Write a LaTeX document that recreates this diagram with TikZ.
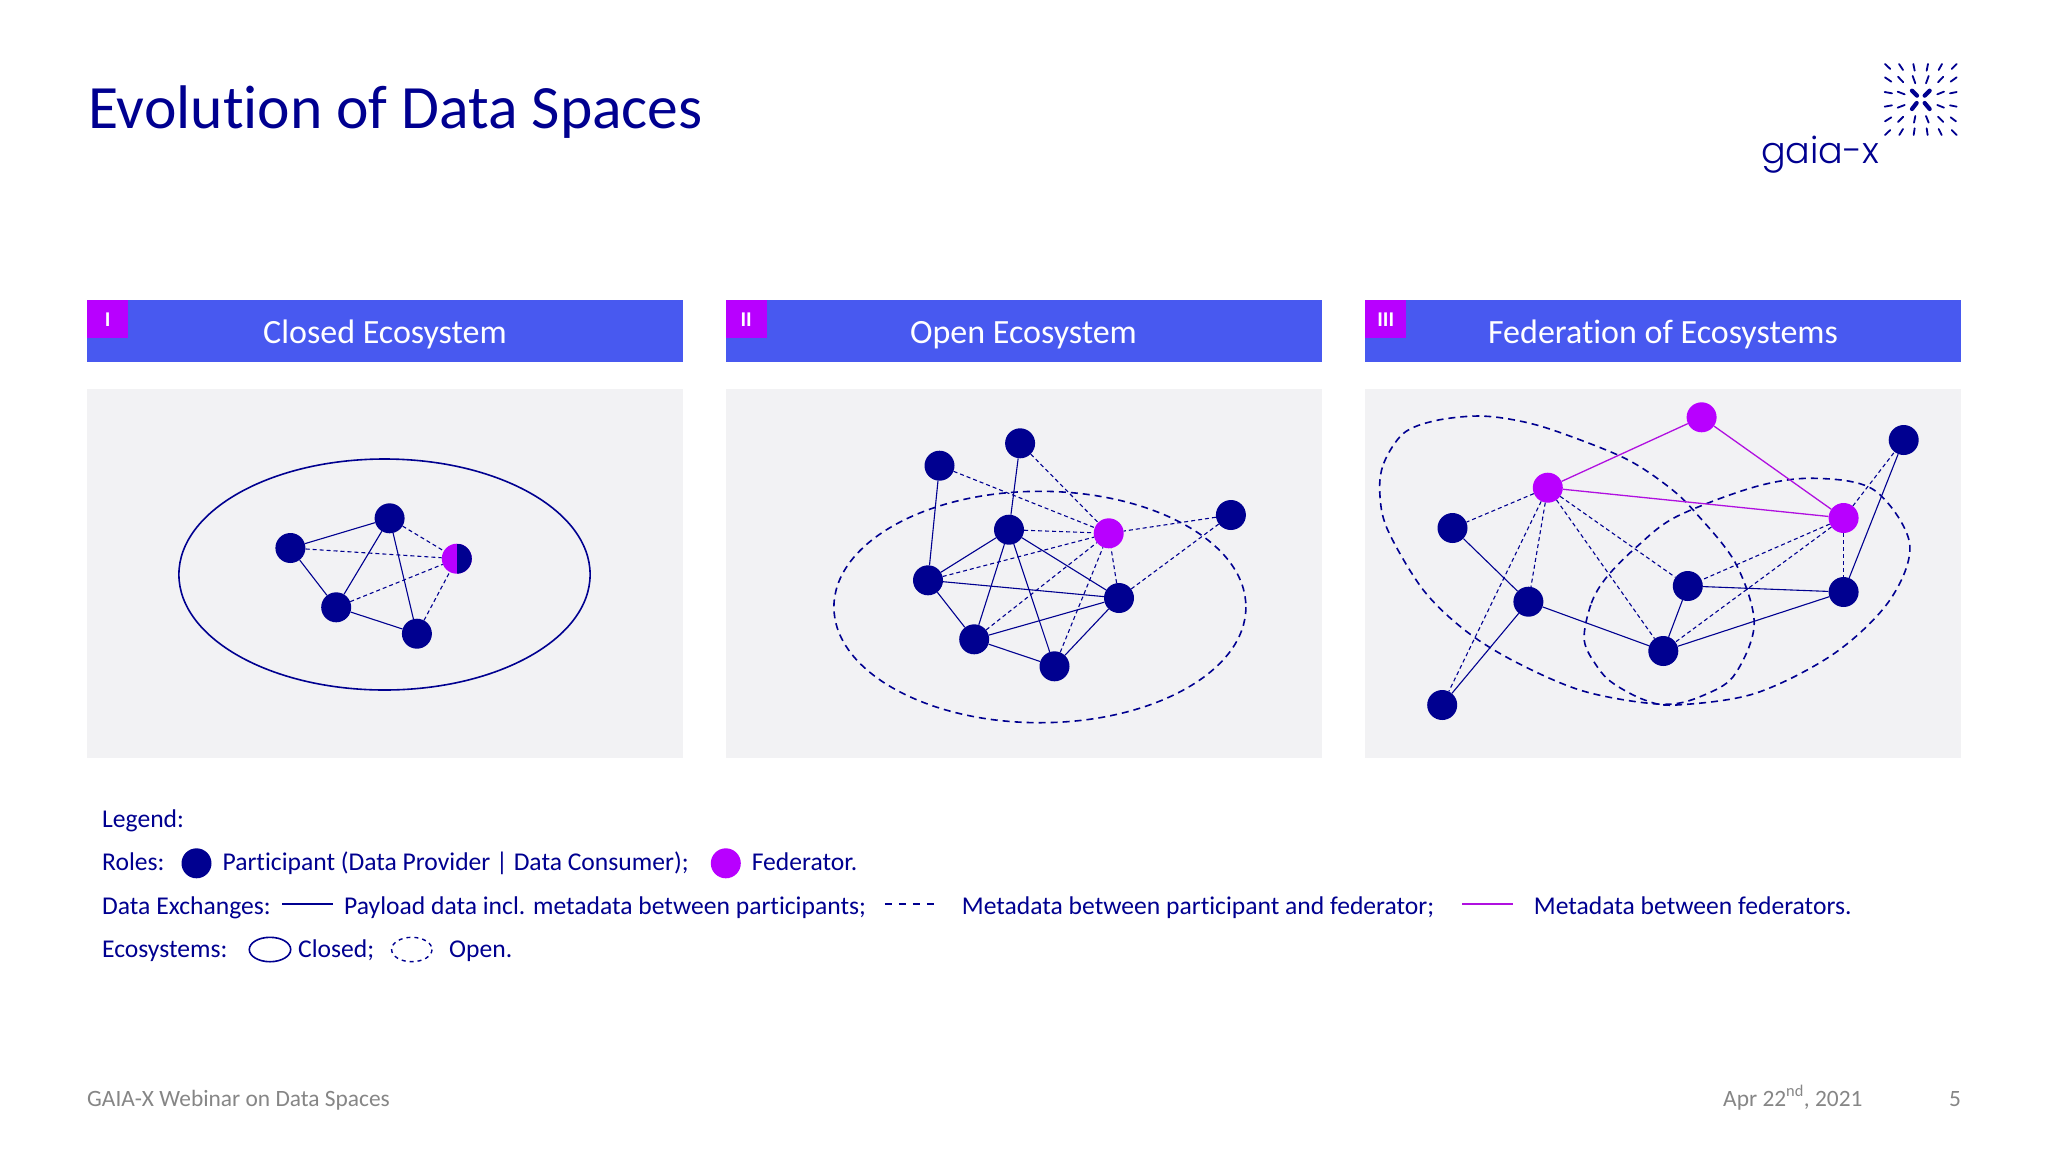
\documentclass[tikz,border=0pt]{standalone}
\usepackage{fontspec}
\setmainfont[Ligatures=NoCommon]{Carlito}
\newfontfamily\logofont{Poppins Light}
\definecolor{gxnavy}{HTML}{000090}
\definecolor{gxpurple}{HTML}{B800FF}
\definecolor{gxviolet}{HTML}{B010E0}
\definecolor{gxblue}{HTML}{4859F0}
\definecolor{gxpanel}{HTML}{F2F2F4}
\definecolor{gxgrey}{HTML}{868686}
\tikzset{
    participant/.style={circle,fill=gxnavy,inner sep=0pt,minimum size=30pt},
    federator/.style={circle,fill=gxpurple,inner sep=0pt,minimum size=30pt},
    payload/.style={gxnavy,line width=1.1pt},
    metadata/.style={gxnavy,line width=1.1pt,dash pattern=on 4pt off 3pt},
    fedlink/.style={gxviolet,line width=1.3pt},
    ecoclosed/.style={gxnavy,line width=1.6pt},
    ecoopen/.style={gxnavy,line width=1.6pt,dash pattern=on 7pt off 5pt},
    header/.style={fill=gxblue,draw=none,inner sep=0pt,minimum width=596pt,minimum height=62pt,anchor=north west},
    badge/.style={fill=gxpurple,inner sep=0pt,minimum width=41pt,minimum height=38pt,anchor=north west,text=white,font=\fontsize{21}{21}\selectfont\bfseries},
    panel/.style={fill=gxpanel,inner sep=0pt,minimum width=596pt,minimum height=369pt,anchor=north west},
    headtext/.style={anchor=base,text=white,font=\fontsize{34}{34}\selectfont},
    legendtext/.style={anchor=base west,text=gxnavy,inner sep=0pt,font=\fontsize{25.6}{26}\selectfont},
    foottext/.style={anchor=base west,text=gxgrey,inner sep=0pt,font=\fontsize{23.4}{24}\selectfont},
    logodash/.style={gxnavy,line width=1.8pt,line cap=round},
    logocore/.style={gxnavy,line width=4.2pt,line cap=round}
}
\begin{document}
\begin{tikzpicture}[x=1pt,y=-1pt]
    \useasboundingbox (0,0) rectangle (2048,1152);
    \fill[white] (0,0) rectangle (2048,1152);
    \node[anchor=base west,inner sep=0pt,text=gxnavy,font=\fontsize{61.6}{62}\selectfont] (title) at (88,128) {Evolution of Data Spaces};
    % logo
    \begin{scope}[shift={(1720,40)},x=0.3333pt,y=-0.3333pt]
        \draw[logodash] (495,72) -- (511,87) (537,72) -- (549,90) (580,72) -- (584,92) (624,72) -- (620,92) (666,72) -- (656,90) (710,72) -- (695,87);
        \draw[logodash] (495,112) -- (514,125) (534,110) -- (550,127) (578,108) -- (586,130) (626,108) -- (618,130) (670,110) -- (654,127) (710,112) -- (692,125);
        \draw[logodash] (494,156) -- (516,160) (533,155) -- (554,163) (652,163) -- (672,155) (690,160) -- (710,156);
        \draw[logodash] (494,200) -- (516,196) (533,203) -- (554,195) (652,195) -- (672,203) (690,196) -- (710,200);
        \draw[logodash] (495,244) -- (514,232) (534,246) -- (550,230) (582,248) -- (586,228) (626,248) -- (618,228) (670,246) -- (654,230) (708,244) -- (692,232);
        \draw[logodash] (495,285) -- (511,270) (538,285) -- (549,267) (581,285) -- (584,265) (623,285) -- (620,265) (665,285) -- (656,267) (710,285) -- (695,270);
        \draw[logocore] (576,152) -- (591,167) (629,152) -- (614,167) (590,189) -- (576,207) (614,189) -- (629,207);
    \end{scope}
    \node[anchor=base west,inner sep=0pt,text=gxnavy,font=\logofont\fontsize{36.5}{37}\selectfont] (logotext) at (1761,163) {gaia-x};
    % column one
    \node[header] (headone) at (87,300) {};
    \node[headtext] (headonetext) at (385,343) {Closed Ecosystem};
    \node[badge] (badgeone) at (87,300) {I};
    \node[panel] (panelone) at (87,389) {};
    \draw[ecoclosed] (384.5,574.5) ellipse (205.6 and 115.5);
    \node[participant] (onea) at (290.4,548) {};
    \node[participant] (oneb) at (389.6,518.3) {};
    \node[participant] (onec) at (336.2,607.3) {};
    \node[participant] (oned) at (416.9,633.7) {};
    \node[federator,path picture={\fill[gxnavy] (path picture bounding box.north) rectangle (path picture bounding box.south east);}] (onef) at (456.8,558.7) {};
    \draw[payload] (onea) -- (oneb);
    \draw[payload] (onea) -- (onec);
    \draw[payload] (oneb) -- (onec);
    \draw[payload] (oneb) -- (oned);
    \draw[payload] (onec) -- (oned);
    \draw[metadata] (onea) -- (onef);
    \draw[metadata] (oneb) -- (onef);
    \draw[metadata] (onec) -- (onef);
    \draw[metadata] (oned) -- (onef);
    % column two
    \node[header] (headtwo) at (725.5,300) {};
    \node[headtext] (headtwotext) at (1023.5,343) {Open Ecosystem};
    \node[badge] (badgetwo) at (725.5,300) {II};
    \node[panel] (paneltwo) at (725.5,389) {};
    \draw[ecoopen] (1039.9,607) ellipse (206 and 115.7);
    \node[participant] (twoa) at (939.5,465.7) {};
    \node[participant] (twob) at (1020.1,443.3) {};
    \node[participant] (twoc) at (1009,529.7) {};
    \node[participant] (twod) at (928,580.3) {};
    \node[participant] (twoe) at (1230.9,515) {};
    \node[participant] (twog) at (1119,598) {};
    \node[participant] (twoh) at (974.2,639.3) {};
    \node[participant] (twoi) at (1054.5,666.3) {};
    \node[federator] (twof) at (1108.7,533.3) {};
    \draw[payload] (twoa) -- (twod);
    \draw[payload] (twob) -- (twoc);
    \draw[payload] (twoc) -- (twod);
    \draw[payload] (twoc) -- (twoh);
    \draw[payload] (twoc) -- (twoi);
    \draw[payload] (twoc) -- (twog);
    \draw[payload] (twod) -- (twog);
    \draw[payload] (twod) -- (twoh);
    \draw[payload] (twoh) -- (twog);
    \draw[payload] (twoh) -- (twoi);
    \draw[payload] (twoi) -- (twog);
    \draw[metadata] (twoa) -- (twof);
    \draw[metadata] (twob) -- (twof);
    \draw[metadata] (twoc) -- (twof);
    \draw[metadata] (twod) -- (twof);
    \draw[metadata] (twoh) -- (twof);
    \draw[metadata] (twoi) -- (twof);
    \draw[metadata] (twog) -- (twof);
    \draw[metadata] (twoe) -- (twof);
    \draw[metadata] (twog) -- (twoe);
    % column three
    \node[header] (headthree) at (1365,300) {};
    \node[headtext] (headthreetext) at (1663,343) {Federation of Ecosystems};
    \node[badge] (badgethree) at (1365,300) {III};
    \node[panel] (panelthree) at (1365,389) {};
    \draw[ecoopen] plot[smooth cycle,tension=0.55] coordinates {(1379.8,493.3) (1383.7,463.3) (1403.5,433.3) (1435.1,420.7) (1478.6,416) (1518.2,420.7) (1557.7,431.7) (1624.9,458.3) (1668.4,486.7) (1696.1,513.3) (1735.6,563.3) (1754.2,623.3) (1735.6,673.3) (1708,693.3) (1664.5,704.3) (1585.4,691.7) (1518.2,663.3) (1466.8,631.7) (1423.3,590) (1387.7,530)};
    \draw[ecoopen] plot[smooth cycle,tension=0.55] coordinates {(1584.2,640) (1591.3,603.3) (1607,576.7) (1636.8,546.7) (1676.3,516.7) (1755.4,486.7) (1814.7,478.3) (1874,490) (1909.6,543.3) (1889.9,600) (1834.5,653.3) (1755.4,693.3) (1676.3,705) (1644.7,700) (1613.1,683.3) (1597.2,666.7)};
    \node[federator] (threef) at (1547.8,487.7) {};
    \node[federator] (threeg) at (1701.6,417.3) {};
    \node[federator] (threeh) at (1843.6,518) {};
    \node[participant] (threea) at (1452.5,528) {};
    \node[participant] (threeb) at (1528.4,601.7) {};
    \node[participant] (threec) at (1687.8,586) {};
    \node[participant] (threed) at (1843.6,592) {};
    \node[participant] (threee) at (1663.3,651) {};
    \node[participant] (threei) at (1442.2,705) {};
    \node[participant] (threej) at (1903.7,440) {};
    \draw[payload] (threea) -- (threeb);
    \draw[payload] (threeb) -- (threee);
    \draw[payload] (threeb) -- (threei);
    \draw[payload] (threec) -- (threee);
    \draw[payload] (threec) -- (threed);
    \draw[payload] (threee) -- (threed);
    \draw[payload] (threej) -- (threed);
    \draw[fedlink] (threef) -- (threeg);
    \draw[fedlink] (threeg) -- (threeh);
    \draw[fedlink] (threef) -- (threeh);
    \draw[metadata] (threef) -- (threea);
    \draw[metadata] (threef) -- (threei);
    \draw[metadata] (threef) -- (threeb);
    \draw[metadata] (threef) -- (threee);
    \draw[metadata] (threef) -- (threec);
    \draw[metadata] (threeh) -- (threec);
    \draw[metadata] (threeh) -- (threee);
    \draw[metadata] (threeh) -- (threed);
    \draw[metadata] (threeh) -- (threej);
    % legend
    \node[legendtext] (legendhead) at (102,827) {Legend:};
    \node[legendtext] (roles) at (102,870) {Roles:};
    \node[participant] (roleone) at (196.5,863.3) {};
    \node[legendtext] (roleonetext) at (222.4,870) {Participant (Data Provider | Data Consumer);};
    \node[federator] (roletwo) at (725.8,863.3) {};
    \node[legendtext] (roletwotext) at (751.6,870) {Federator.};
    \node[legendtext] (exchanges) at (102,914) {Data Exchanges:};
    \coordinate (solida) at (282,903.5);
    \coordinate (solidb) at (332.6,903.5);
    \draw[gxnavy,line width=2pt] (solida) -- (solidb);
    \node[legendtext] (solidtext) at (344,914) {Payload data incl. metadata between participants;};
    \coordinate (dasha) at (884.8,903.5);
    \coordinate (dashb) at (935.3,903.5);
    \draw[gxnavy,line width=2pt,dash pattern=on 7pt off 7pt] (dasha) -- (dashb);
    \node[legendtext] (dashtext) at (961.7,914) {Metadata between participant and federator;};
    \coordinate (feda) at (1462,903.5);
    \coordinate (fedb) at (1512.6,903.5);
    \draw[gxviolet,line width=2pt] (feda) -- (fedb);
    \node[legendtext] (fedtext) at (1533.7,914) {Metadata between federators.};
    \node[legendtext] (ecosystems) at (102,957) {Ecosystems:};
    \draw[gxnavy,line width=1.6pt] (270,949.5) ellipse (20.7 and 12.2);
    \node[legendtext] (closedtext) at (298,957) {Closed;};
    \draw[gxnavy,line width=1.4pt,dash pattern=on 4pt off 4pt] (411.8,949.5) ellipse (20.2 and 12.2);
    \node[legendtext] (opentext) at (449,957) {Open.};
    % footer
    \node[foottext] (footleft) at (87,1106) {GAIA-X Webinar on Data Spaces};
    \node[foottext] (footdate) at (1723,1106) {Apr 22\textsuperscript{nd}, 2021};
    \node[foottext] (footpage) at (1949,1106) {5};
\end{tikzpicture}
\end{document}
